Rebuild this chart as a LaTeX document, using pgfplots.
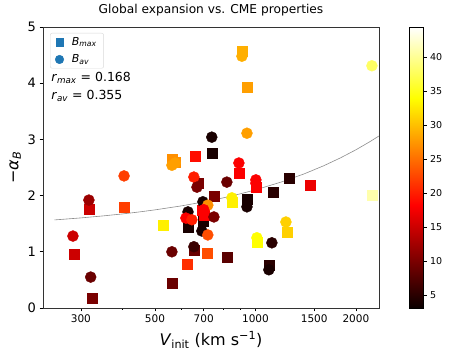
\documentclass[border=0pt]{standalone}
\usepackage{fontspec}
\setmainfont{DejaVu Sans}
\usepackage{pgfplots}
\pgfplotsset{compat=1.18}
\definecolor{mplblue}{HTML}{1F77B4}
\pgfplotsset{/pgf/number format/assume math mode=true}
\begin{document}
\begin{tikzpicture}
\path (-43pt,-47pt) rectangle (431pt,308pt);
\begin{axis}[
  scale only axis, width=336pt, height=281pt,
  xmode=log, xmin=231, xmax=2345, ymin=0, ymax=5,
  xtick={300,500,700,1000,1500,2000},
  xticklabels={300,500,700,1000,1500,2000},
  minor xtick={400,600,800,900},
  ytick={0,1,2,3,4,5},
  tick align=outside, xtick pos=left, ytick pos=left,
  major tick length=3.5pt, minor tick length=2pt,
  every tick/.style={black, line width=0.6pt},
  axis line style={black!80, line width=0.7pt},
  x tick label style={font=\fontsize{10.5}{12}\selectfont},
  y tick label style={font=\fontsize{13}{14}\selectfont},
  title={Global expansion vs. CME properties},
  title style={at={(axis description cs:0.5,1)}, anchor=center, yshift=11pt, font=\fontsize{12.2}{14}\selectfont},
  xlabel={\textit{V}\textsubscript{init} (km s\textsuperscript{−1})},
  xlabel style={at={(axis description cs:0.5,0)}, anchor=center, yshift=-32pt, font=\fontsize{16}{18}\selectfont},
  ylabel={−\textit{α}\textsubscript{\textit{B}}},
  ylabel style={at={(axis description cs:-0.083,0.5)}, anchor=center, font=\fontsize{16}{18}\selectfont},
  colormap={mplhot}{rgb(0pt)=(0.0416,0,0); rgb(365pt)=(1,0,0); rgb(746pt)=(1,1,0); rgb(1000pt)=(1,1,1)},
  point meta min=3.1, point meta max=44.4,
  colorbar,
  colorbar style={width=14pt, height=281pt, scale only axis,
    at={(parent axis.north east)}, anchor=north west, xshift=22pt,
    ytick={5,10,15,20,25,30,35,40},
    yticklabel pos=right, ytick pos=right, tick align=outside,
    major tick length=3pt,
    yticklabel style={font=\fontsize{9.5}{11}\selectfont},
    axis line style={black, line width=0.6pt}},
  legend style={at={(axis description cs:0,1)}, anchor=north west, xshift=7pt, yshift=-6pt,
    draw=black!15, rounded corners=2pt, font=\fontsize{11}{12}\selectfont,
    row sep=4pt, column sep=6pt, inner xsep=5pt, inner ysep=2pt},
  legend cell align=left,
  clip=true,
]
% fit line
\addplot[black!45, line width=0.6pt, forget plot] coordinates {
(250,1.567) (300,1.603) (350,1.639) (400,1.674) (450,1.710) (500,1.746) (600,1.817)
(700,1.888) (800,1.959) (900,2.031) (1000,2.102) (1200,2.245) (1400,2.387)
(1600,2.530) (1800,2.673) (2000,2.815) (2200,2.958) (2345,3.061)};
% B_max squares
\addplot[scatter, only marks, mark=square*, mark size=5pt, scatter src=explicit,
  scatter/use mapped color={draw=mapped color, fill=mapped color}, forget plot]
  table[meta=c] {
x y c
911 4.57 29
943 3.93 28
2233 2.01 41
562 2.65 27
575 2.60 27
659 2.70 19
740 2.76 4
672 2.22 10
751 1.99 10
317 1.76 15
404 1.80 22
528 1.48 33
628 1.44 4
696 1.55 4
691 1.74 18
700 1.66 18
892 2.40 18
1003 2.15 18
1260 2.31 5
1456 2.19 17
1128 2.06 5
943 1.94 4
850 1.89 33
1243 1.35 31
1010 1.17 34
1097 0.77 5
286 0.96 15
654 1.03 9
715 0.98 23
623 0.78 21
821 0.91 8
562 0.44 9
324 0.18 10
};
% B_av circles
\addplot[scatter, only marks, mark=*, mark size=5.5pt, scatter src=explicit,
  scatter/use mapped color={draw=mapped color, fill=mapped color}, forget plot]
  table[meta=c] {
x y c
911 4.48 29
2233 4.31 38
943 3.11 28
740 3.04 4
562 2.54 28
575 2.58 28
892 2.58 18
404 2.35 22
654 2.33 20
668 2.15 10
821 2.24 9
1003 2.28 18
1003 2.22 18
317 1.92 12
696 1.89 4
720 1.83 27
628 1.71 4
619 1.60 18
645 1.57 20
751 1.62 10
850 1.96 33
943 1.80 4
691 1.37 4
720 1.30 23
284 1.28 15
1234 1.53 31
1010 1.25 34
1120 1.16 5
1097 0.68 4
562 1.00 9
654 1.09 6
321 0.55 9
700 1.75 18
};
\addlegendimage{only marks, mark=square*, mark size=3.8pt, mplblue}
\addlegendentry{\textit{B}\textsubscript{\textit{max}}}
\addlegendimage{only marks, mark=*, mark size=4.3pt, mplblue}
\addlegendentry{\textit{B}\textsubscript{\textit{av}}}
\node[anchor=west, inner sep=0pt, font=\fontsize{12.5}{14}\selectfont] at (axis description cs:0.024,0.818)
  {\textit{r}\textsubscript{\textit{max}} = 0.168};
\node[anchor=west, inner sep=0pt, font=\fontsize{12.5}{14}\selectfont] at (axis description cs:0.024,0.754)
  {\textit{r}\textsubscript{\textit{av}} = 0.355};
\end{axis}
\end{tikzpicture}
\end{document}
